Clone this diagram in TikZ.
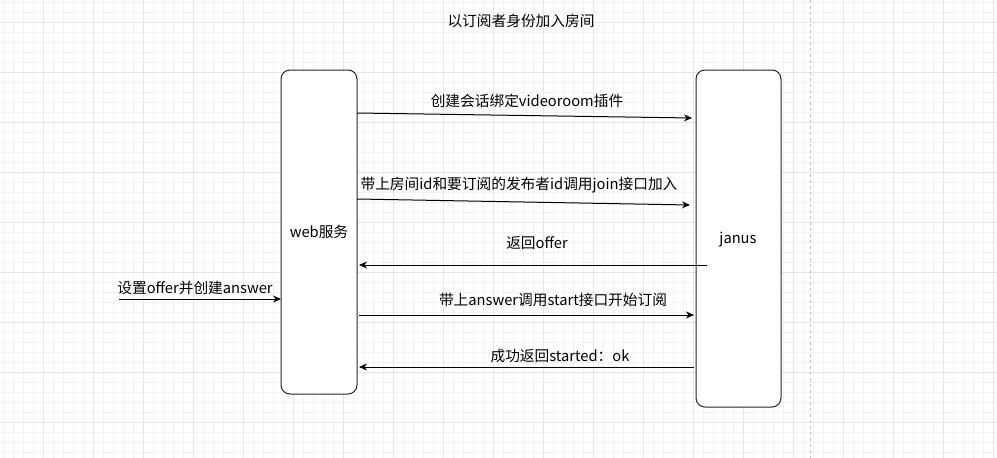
\documentclass[tikz,border=0pt]{standalone}
\usepackage{fontspec}
\setmainfont{Noto Sans CJK SC}
\usetikzlibrary{arrows.meta}
\begin{document}
\begin{tikzpicture}[x=1pt,y=-1pt,
  box/.style={draw=black!85,line width=1pt,rounded corners=9pt,fill=white},
  arr/.style={-{Stealth[length=8pt,width=7pt]},line width=1pt},
  lbl/.style={font=\fontsize{14.7}{16}\selectfont,inner sep=1pt}]
\useasboundingbox (0,0) rectangle (997,458);
\fill[white] (0,0) rectangle (997,458);
\foreach \x in {3,13,...,993} \draw[black!5,line width=0.6pt] (\x,0) -- (\x,458);
\foreach \y in {2,12,...,452} \draw[black!5,line width=0.6pt] (0,\y) -- (997,\y);
\foreach \x in {43,93,...,993} \draw[black!10,line width=0.7pt] (\x,0) -- (\x,458);
\foreach \y in {22,72,...,452} \draw[black!10,line width=0.7pt] (0,\y) -- (997,\y);
\draw[black!25,dashed,line width=0.8pt] (810,0) -- (810,458);
\node[lbl] (title) at (521,21) {以订阅者身份加入房间};
\draw[box] (281,70) rectangle (357,394);
\draw[box] (696,70) rectangle (781,407);
\node[lbl] (web) at (319,232) {web服务};
\node[lbl] (janus) at (738,240) {janus};
\coordinate (a1) at (357,113); \coordinate (b1) at (692,118);
\coordinate (a2) at (357,199); \coordinate (b2) at (690,205);
\coordinate (a3) at (707,265); \coordinate (b3) at (359,265);
\coordinate (a4) at (119,299); \coordinate (b4) at (281,299);
\coordinate (a5) at (359,315); \coordinate (b5) at (694,315);
\coordinate (a6) at (694,367); \coordinate (b6) at (359,367);
\foreach \i in {1,...,6} \draw[arr] (a\i) -- (b\i);
\node[lbl] at (527,101) {创建会话绑定videoroom插件};
\node[lbl] at (519,185) {带上房间id和要订阅的发布者id调用join接口加入};
\node[lbl] at (537,243) {返回offer};
\node[lbl] at (195,288) {设置offer并创建answer};
\node[lbl] at (553,300) {带上answer调用start接口开始订阅};
\node[lbl] at (560,356) {成功返回started：ok};
\end{tikzpicture}
\end{document}
